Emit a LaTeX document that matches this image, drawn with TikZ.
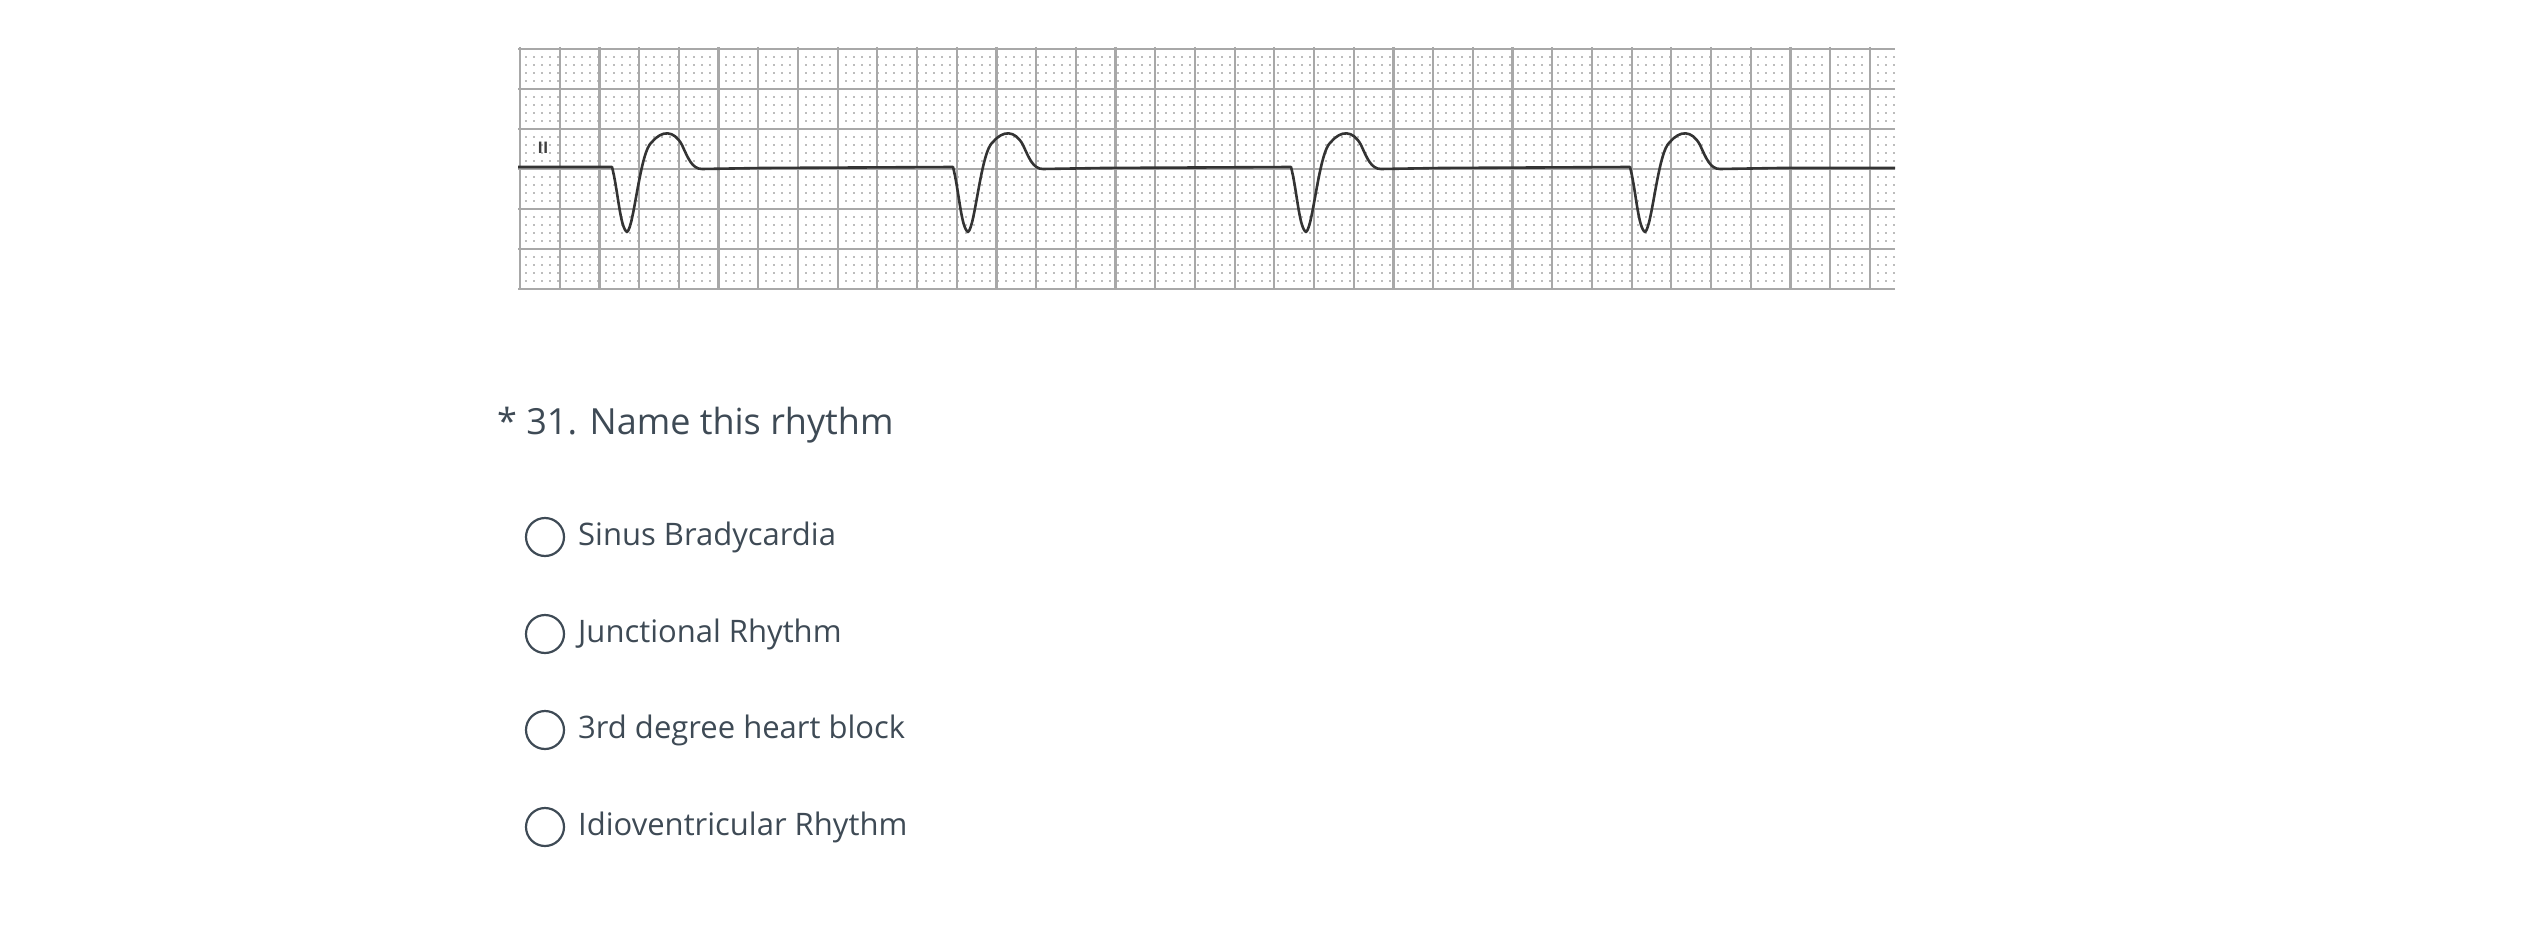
\documentclass[tikz,border=0pt]{standalone}
\usepackage{fontspec}
\setmainfont{Open Sans}
\definecolor{txt}{HTML}{3E4A55}
\definecolor{grd}{HTML}{A8A8A8}
\definecolor{dotc}{HTML}{BDBDBD}
\begin{document}
\begin{tikzpicture}[x=1pt,y=-1pt,
  opt/.style={anchor=west,font=\fontsize{31}{36}\selectfont,text=txt,inner sep=0},
  radio/.style={circle,draw=txt,line width=2.2pt,minimum size=38pt,inner sep=0}]
\useasboundingbox (0,0) rectangle (2526,928);
% grid dots
\foreach \r in {0,...,5}{
  \foreach \k in {8,16,24,32}{
    \draw[dotc,line width=2.2pt,dash pattern=on 2.2pt off 5.8pt] (525,{49+40*\r+\k}) -- (1895,{49+40*\r+\k});
  }}
\foreach \i in {0,...,34} \draw[grd,line width=2.2pt] ({520+39.7*\i},47) -- ({520+39.7*\i},290);
\foreach \j in {0,...,6} \draw[grd,line width=2.2pt] (518,{49+40*\j}) -- (1895,{49+40*\j});
\node[font=\bfseries\fontsize{16}{16}\selectfont,text=black!75] (lead) at (543,148) {II};
% trace
\draw[black!80,line width=2.6pt,line join=round]
  (518,167) -- (612,167)
  \foreach \s in {612,953,1291,1630}{
   -- (\s,167) .. controls (\s+6,190) and (\s+8,228) .. (\s+15,232)
   .. controls (\s+22,228) and (\s+28,150) .. (\s+40,142)
   .. controls (\s+50,130) and (\s+62,130) .. (\s+70,145)
   .. controls (\s+76,158) and (\s+80,169) .. (\s+90,169)
   -- (\s+150,168) }
  -- (1895,168);
\node[anchor=west,font=\fontsize{36}{40}\selectfont,text=txt,inner sep=0] (q) at (497,425) {* 31. Name this rhythm};
\node[radio] (c1) at (545,537) {};
\node[radio] (c2) at (545,634) {};
\node[radio] (c3) at (545,730) {};
\node[radio] (c4) at (545,827) {};
\node[opt] (o1) at (578,537) {Sinus Bradycardia};
\node[opt] (o2) at (578,634) {Junctional Rhythm};
\node[opt] (o3) at (578,730) {3rd degree heart block};
\node[opt] (o4) at (578,827) {Idioventricular Rhythm};
\end{tikzpicture}
\end{document}
